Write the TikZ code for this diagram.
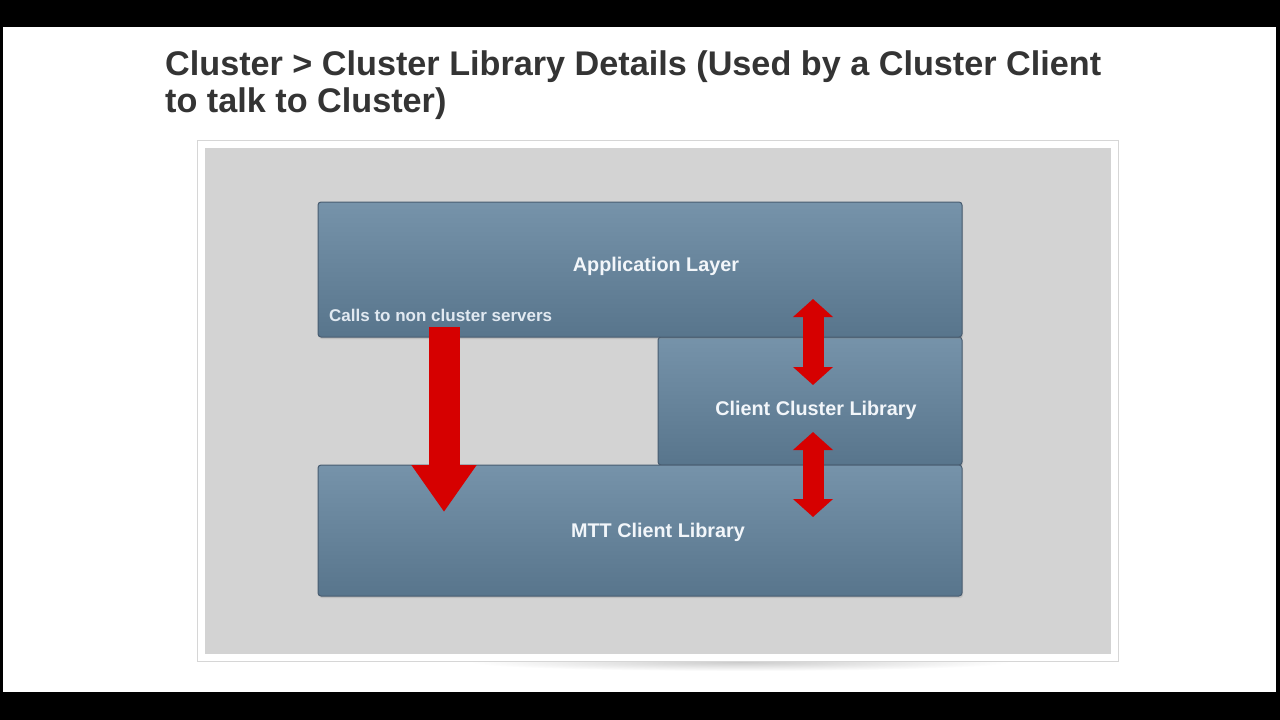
\documentclass[tikz,border=0pt]{standalone}
\usepackage{fontspec}
\setmainfont{Liberation Sans}
\usetikzlibrary{arrows.meta,shadows}
\definecolor{titlec}{RGB}{52,52,52}
\definecolor{panelgray}{RGB}{211,211,211}
\definecolor{framec}{RGB}{214,214,214}
\definecolor{boxtop}{RGB}{118,147,170}
\definecolor{boxbot}{RGB}{88,117,140}
\definecolor{boxedge}{RGB}{72,92,112}
\definecolor{lblc}{RGB}{242,246,250}
\definecolor{callc}{RGB}{225,233,241}
\definecolor{arrowred}{RGB}{214,0,0}
\tikzset{
  titletext/.style={anchor=base west, inner sep=0pt, text=titlec,
    font=\bfseries\fontsize{34.2}{37}\selectfont},
  layerbox/.style={draw=boxedge, line width=1pt, top color=boxtop, bottom color=boxbot,
    rounded corners=3pt, inner sep=0pt,
    drop shadow={opacity=0.25, shadow xshift=1pt, shadow yshift=-2pt}},
  layerlabel/.style={inner sep=0pt, text=lblc, font=\bfseries\fontsize{19.8}{22}\selectfont},
  calllabel/.style={anchor=west, inner sep=0pt, text=callc, font=\bfseries\fontsize{17}{19}\selectfont},
  bigarrow/.style={draw=arrowred, line width=31pt, -{Triangle[width=62pt,length=47pt]}, color=arrowred},
  dblarrow/.style={draw=arrowred, line width=21pt,
    {Triangle[width=39pt,length=18pt]}-{Triangle[width=39pt,length=18pt]}, color=arrowred}
}
\begin{document}
\begin{tikzpicture}[x=1pt,y=-1pt]
\useasboundingbox (0,0) rectangle (1280,720);
\fill[black] (0,0) rectangle (1280,720);
\fill[white] (3,27) rectangle (1276,692);

% title
\node[titletext] (t1) at (165,75) {Cluster > Cluster Library Details (Used by a Cluster Client};
\node[titletext] (t2) at (165,112) {to talk to Cluster)};

% frame with shadow
\shade[inner color=black!20, outer color=white] (740,662) ellipse (270 and 9);
\filldraw[fill=white, draw=framec, line width=1pt] (197,140) rectangle (1118,661);
\fill[panelgray] (205,148) rectangle (1111,654);

% layer boxes
\node[layerbox, minimum width=304pt, minimum height=128pt] (client) at (810,401) {};
\node[layerbox, minimum width=644pt, minimum height=135pt] (app) at (640,269.5) {};
\node[layerbox, minimum width=644pt, minimum height=131pt] (mtt) at (640,530.5) {};

\node[layerlabel] (applbl) at (656,266) {Application Layer};
\node[layerlabel] (clientlbl) at (816,410) {Client Cluster Library};
\node[layerlabel] (mttlbl) at (658,532) {MTT Client Library};
\node[calllabel] (calls) at (329,315) {Calls to non cluster servers};

% arrows
\coordinate (d1) at (444,327);
\coordinate (d2) at (444,512);
\draw[bigarrow] (d1) -- (d2);

\coordinate (u1) at (813,299);
\coordinate (u2) at (813,385);
\draw[dblarrow] (u1) -- (u2);

\coordinate (l1) at (813,432);
\coordinate (l2) at (813,517);
\draw[dblarrow] (l1) -- (l2);
\end{tikzpicture}
\end{document}
